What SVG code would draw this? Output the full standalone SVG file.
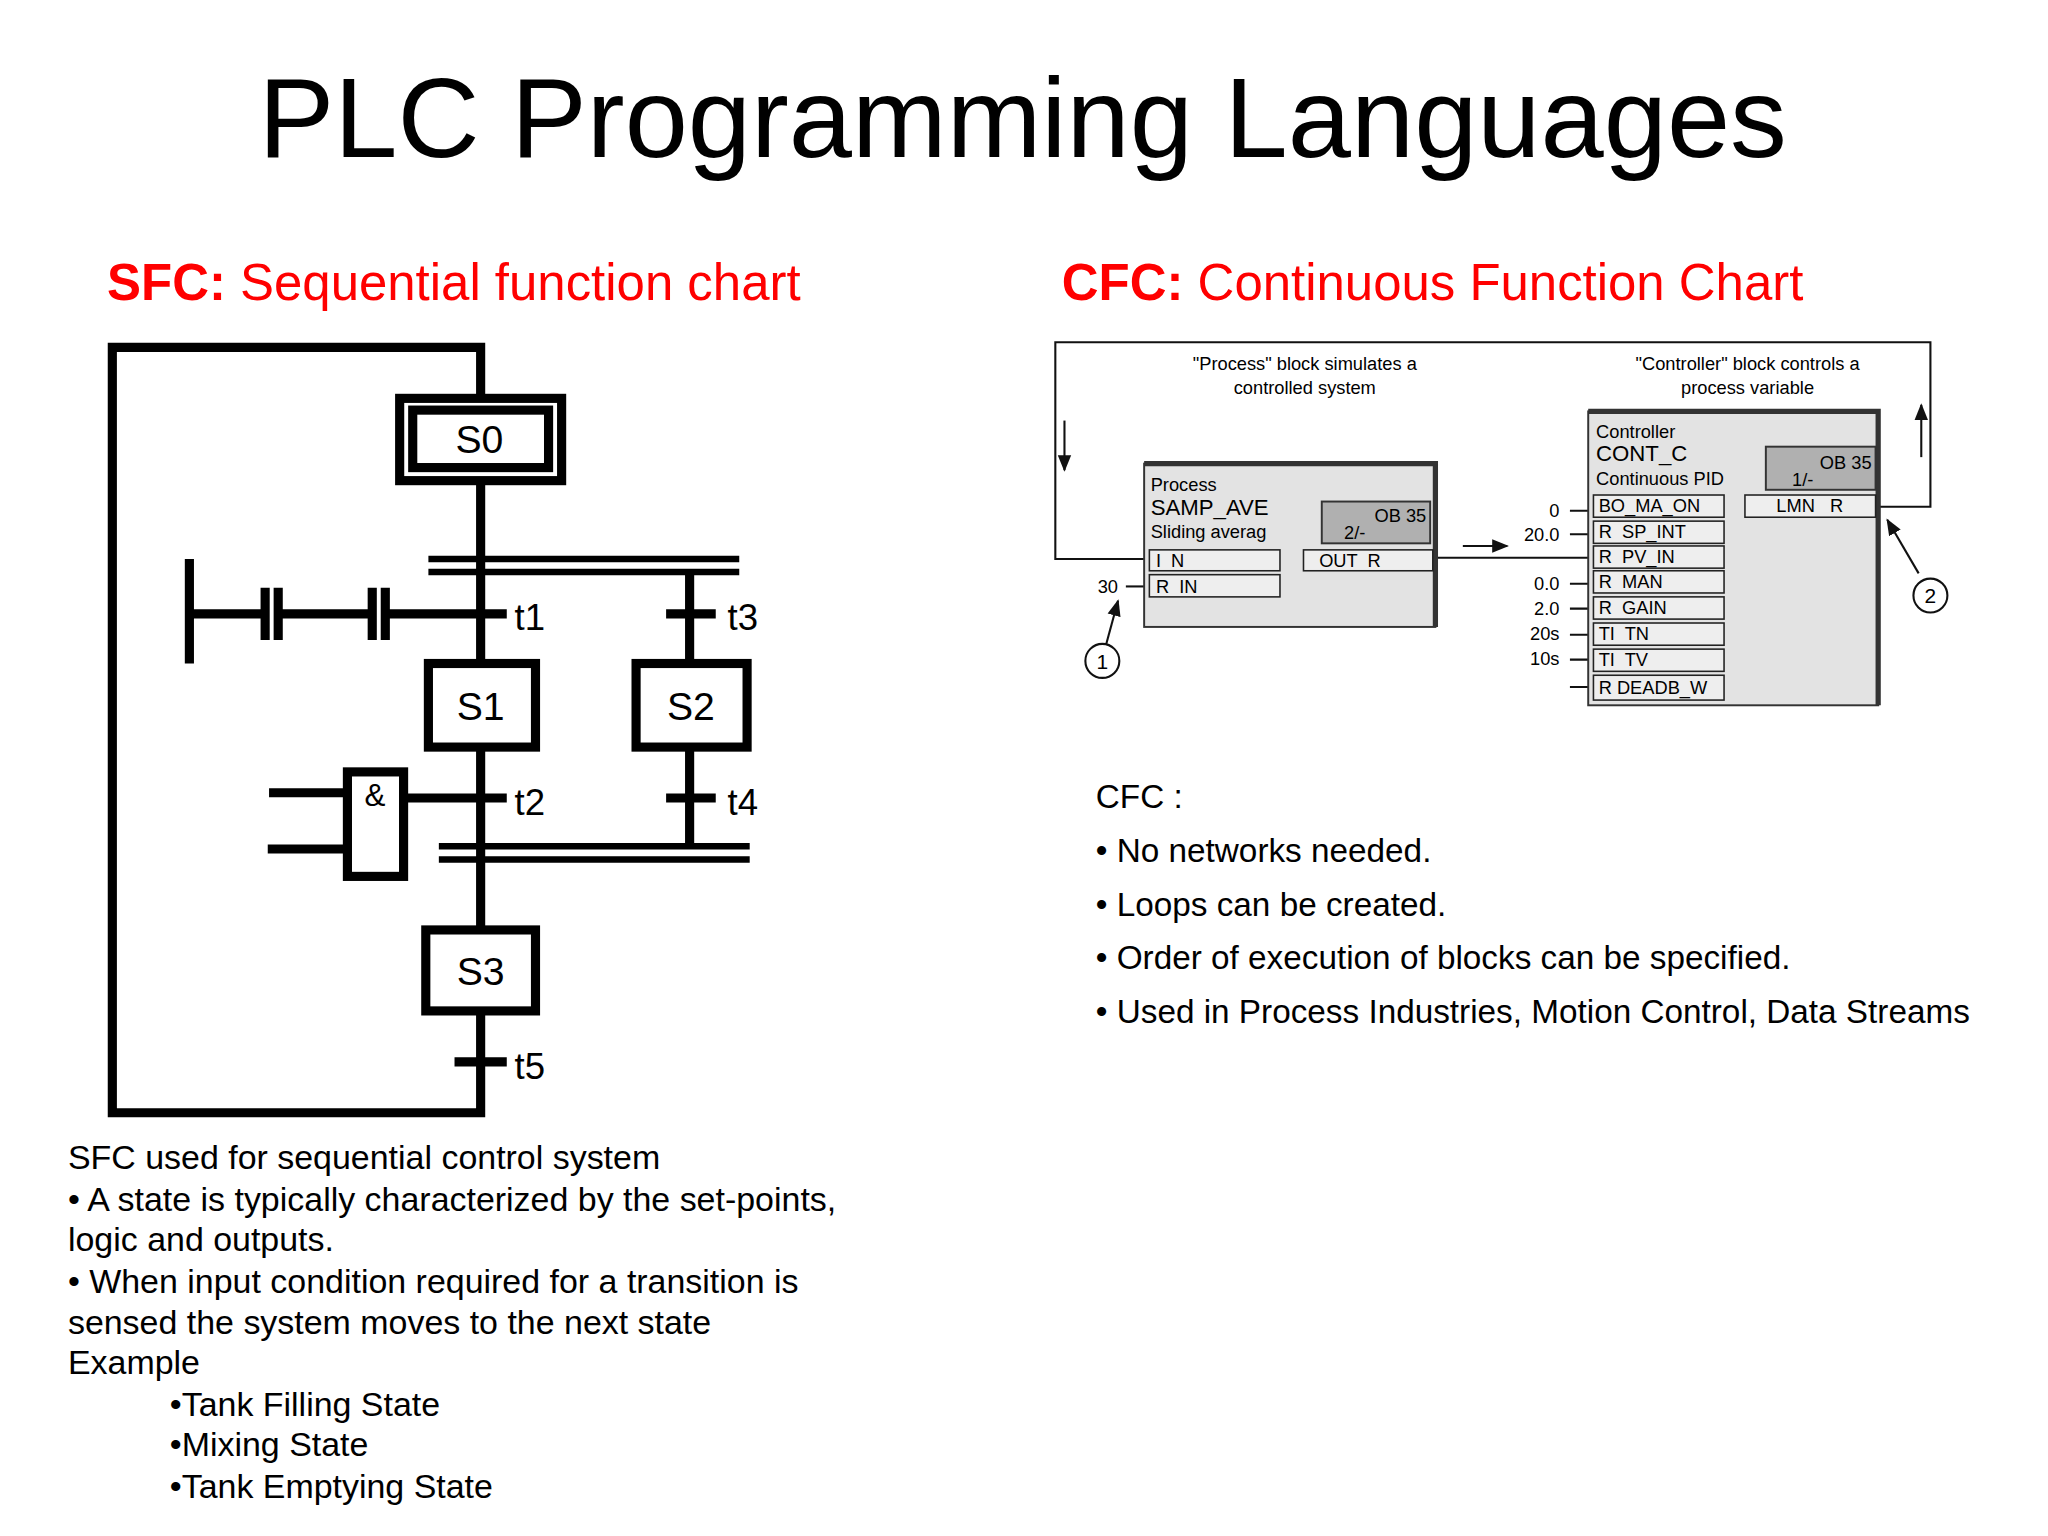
<svg xmlns="http://www.w3.org/2000/svg" width="2048" height="1536" viewBox="0 0 2048 1536">
<style>
text{font-family:"Liberation Sans",Arial,sans-serif;fill:#000}
.k{fill:none;stroke:#000;stroke-width:7}
.t{stroke:#000;stroke-width:7}
.st{font-size:30px;text-anchor:middle}
.tl{font-size:28px}
.h{font-size:39px;fill:#f00}
.c{font-size:14px}
.blk{fill:#e3e3e3;stroke:#333;stroke-width:1.5}
.ob{fill:#b0b0b0;stroke:#333;stroke-width:1.5}
.pin{fill:#eee;stroke:#222;stroke-width:1.2}
.w{fill:none;stroke:#111;stroke-width:1.6}
</style>
<defs>
<marker id="ar" viewBox="0 0 10 10" refX="9" refY="5" markerWidth="8" markerHeight="8" orient="auto"><path d="M0,1 L10,5 L0,9 z" fill="#111"/></marker>
</defs>
<rect width="2048" height="1536" fill="#fff"/>
<g transform="scale(1.3061)">
<text x="783" y="120" font-size="87" text-anchor="middle">PLC Programming Languages</text>
<text class="h" x="82" y="230"><tspan font-weight="bold">SFC:</tspan> Sequential function chart</text>
<text class="h" x="813" y="230"><tspan font-weight="bold">CFC:</tspan> Continuous Function Chart</text>

<g id="sfc-connectors">
<path class="k" d="M368,305 V266 H86 V852 H368 V774"/>
<path class="k" d="M368,368 V508"/>
<path class="k" d="M368,572 V712"/>
<path stroke="#000" stroke-width="5" d="M328,428 H566 M328,438 H566 M336,648 H574 M336,658 H574"/>
<path class="k" stroke-width="5" d="M528,438 V508 M528,572 V648"/>
<path class="t" d="M368,470 H388 M510,470 H548 M368,611 H388 M510,611 H548 M348,813 H388"/>
<path class="t" d="M145,428 V508 M145,470 H205 M215,470 H283 M297,470 H368"/>
<path class="t" d="M203,450 V490 M213,450 V490 M285,450 V490 M295,450 V490"/>
<path class="t" d="M206,607 H264 M205,650 H264 M310,611 H368"/>
</g>
<g id="S0"><rect class="k" x="306" y="305" width="124" height="63"/><rect class="k" x="316" y="314" width="104" height="44" stroke-width="5"/><text class="st" x="367" y="347">S0</text></g>
<g id="S1"><rect class="k" x="328" y="508" width="82" height="64" fill="#fff" stroke-width="8"/><text class="st" x="368" y="551">S1</text></g>
<g id="S2"><rect class="k" x="487" y="508" width="85" height="64" fill="#fff" stroke-width="8"/><text class="st" x="529" y="551">S2</text></g>
<g id="S3"><rect class="k" x="326" y="712" width="84" height="62" fill="#fff" stroke-width="8"/><text class="st" x="368" y="754">S3</text></g>
<g id="and"><rect class="k" x="266" y="591" width="43" height="80" fill="#fff"/><text x="287" y="617" font-size="24" text-anchor="middle">&amp;</text></g>
<g id="labels">
<text class="tl" x="394" y="482">t1</text><text class="tl" x="557" y="482">t3</text>
<text class="tl" x="394" y="624">t2</text><text class="tl" x="557" y="624">t4</text>
<text class="tl" x="394" y="826">t5</text>
</g>
<g id="sfc-text" font-size="26">
<text x="52" y="895">SFC used for sequential control system</text>
<text x="52" y="927">• A state is typically characterized by the set-points,</text>
<text x="52" y="958">logic and outputs.</text>
<text x="52" y="990">• When input condition required for a transition is</text>
<text x="52" y="1021">sensed the system moves to the next state</text>
<text x="52" y="1052">Example</text>
<text x="130" y="1084">•Tank Filling State</text>
<text x="130" y="1115">•Mixing State</text>
<text x="130" y="1147">•Tank Emptying State</text>
</g>

<g id="cfc-connectors">
<path class="w" d="M1438,388 H1478 V262 H808 V428 H880"/>
<path class="w" d="M1097,427 H1220"/>
<path class="w" d="M862,449 H880"/>
<path class="w" d="M1202,391 H1220 M1202,409 H1220 M1202,447 H1220 M1202,466 H1220 M1202,486 H1220 M1202,505 H1220 M1202,526 H1220"/>
<path class="w" marker-end="url(#ar)" d="M815,322 V360"/>
<path class="w" marker-end="url(#ar)" d="M1471,350 V310"/>
<path class="w" marker-end="url(#ar)" d="M1120,418 H1154"/>
<path class="w" marker-end="url(#ar)" d="M847,493 L856,460"/>
<path class="w" marker-end="url(#ar)" d="M1469,439 L1445,398"/>
</g>
<g id="cfc-notes" class="c" text-anchor="middle">
<text x="999" y="283">"Process" block simulates a</text>
<text x="999" y="302">controlled system</text>
<text x="1338" y="283">"Controller" block controls a</text>
<text x="1338" y="302">process variable</text>
</g>
<g id="process">
<rect class="blk" x="876" y="355" width="223" height="125"/>
<path d="M876,355 H1099 V480" fill="none" stroke="#333" stroke-width="4"/>
<text class="c" x="881" y="376">Process</text>
<text x="881" y="394" font-size="17">SAMP_AVE</text>
<text class="c" x="881" y="412">Sliding averag</text>
<rect class="ob" x="1012" y="384" width="83" height="32"/>
<text class="c" x="1092" y="400" text-anchor="end">OB 35</text>
<text class="c" x="1029" y="413">2/-</text>
<rect class="pin" x="880" y="421" width="100" height="16"/><text class="c" x="885" y="434" xml:space="preserve">I  N</text>
<rect class="pin" x="880" y="440" width="100" height="17"/><text class="c" x="885" y="454" xml:space="preserve">R  IN</text>
<rect class="pin" x="998" y="421" width="99" height="16"/><text class="c" x="1010" y="434" xml:space="preserve">OUT  R</text>
<text class="c" x="856" y="454" text-anchor="end">30</text>
</g>
<g id="controller">
<rect class="blk" x="1216" y="315" width="222" height="225"/>
<path d="M1216,315 H1438 V540" fill="none" stroke="#333" stroke-width="4"/>
<text class="c" x="1222" y="335">Controller</text>
<text x="1222" y="353" font-size="17">CONT_C</text>
<text class="c" x="1222" y="371">Continuous PID</text>
<rect class="ob" x="1352" y="342" width="84" height="33"/>
<text class="c" x="1433" y="359" text-anchor="end">OB 35</text>
<text class="c" x="1372" y="372">1/-</text>
<g class="c">
<rect class="pin" x="1220" y="379" width="100" height="17"/><text x="1224" y="392">BO_MA_ON</text>
<rect class="pin" x="1220" y="399" width="100" height="17"/><text x="1224" y="412" xml:space="preserve">R  SP_INT</text>
<rect class="pin" x="1220" y="418" width="100" height="17"/><text x="1224" y="431" xml:space="preserve">R  PV_IN</text>
<rect class="pin" x="1220" y="437" width="100" height="17"/><text x="1224" y="450" xml:space="preserve">R  MAN</text>
<rect class="pin" x="1220" y="457" width="100" height="17"/><text x="1224" y="470" xml:space="preserve">R  GAIN</text>
<rect class="pin" x="1220" y="477" width="100" height="17"/><text x="1224" y="490" xml:space="preserve">TI  TN</text>
<rect class="pin" x="1220" y="497" width="100" height="17"/><text x="1224" y="510" xml:space="preserve">TI  TV</text>
<rect class="pin" x="1220" y="517" width="100" height="19"/><text x="1224" y="531">R DEADB_W</text>
<rect class="pin" x="1336" y="379" width="100" height="17"/><text x="1360" y="392" xml:space="preserve">LMN   R</text>
</g>
<g class="c" text-anchor="end">
<text x="1194" y="396">0</text><text x="1194" y="414">20.0</text><text x="1194" y="452">0.0</text>
<text x="1194" y="471">2.0</text><text x="1194" y="490">20s</text><text x="1194" y="509">10s</text>
</g>
</g>
<g id="c1"><circle cx="844" cy="506" r="13" fill="#fff" stroke="#111" stroke-width="1.6"/><text x="844" y="512" font-size="16" text-anchor="middle">1</text></g>
<g id="c2"><circle cx="1478" cy="456" r="13" fill="#fff" stroke="#111" stroke-width="1.6"/><text x="1478" y="462" font-size="16" text-anchor="middle">2</text></g>
<g id="cfc-text" font-size="25.5">
<text x="839" y="619">CFC :</text>
<text x="839" y="660">• No networks needed.</text>
<text x="839" y="701">• Loops can be created.</text>
<text x="839" y="742">• Order of execution of blocks can be specified.</text>
<text x="839" y="783">• Used in Process Industries, Motion Control, Data Streams</text>
</g>
</g>
</svg>
